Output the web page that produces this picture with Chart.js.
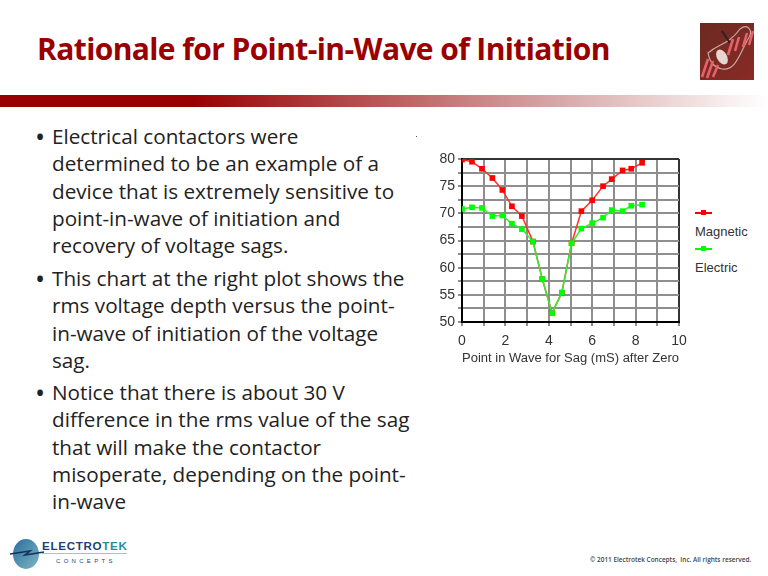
<!DOCTYPE html>
<html>
<head>
<meta charset="utf-8">
<title>Rationale for Point-in-Wave of Initiation</title>
<script src="https://cdn.jsdelivr.net/npm/chart.js@4/dist/chart.umd.min.js"></script>
<style>
    html, body { margin: 0; padding: 0; background: #fff; }
    #slide { position: relative; width: 768px; height: 576px; overflow: hidden; font-family: "Open Sans", sans-serif; }
    #slide > * { position: absolute; }
    #title { left: 37px; top: 29px; font-size: 30px; font-weight: 700; color: #990000; white-space: nowrap; letter-spacing: -0.6px; line-height: 40px; }
    #bar { left: 0; top: 95px; width: 768px; height: 12px; background: linear-gradient(to right, #990000 0%, #990000 25%, #c98585 62%, #ffffff 100%); }
    #icon { left: 700px; top: 23px; }
    .bullet { left: 35px; width: 385px; font-size: 20.7px; line-height: 27.3px; color: #222; white-space: nowrap; }
    .bullet span { position: absolute; left: 0; font-size: 27px; }
    .bullet p { margin: 0 0 0 17px; }
    #chartBox { left: 420px; top: 145px; width: 270px; height: 225px; }
    #speck { left: 416px; top: 136px; width: 1px; height: 1px; background: #555; }
    .leg { font-family: "Liberation Sans", sans-serif; font-size: 13px; color: #333; left: 695px; }
    .legLine { left: 695px; width: 17px; height: 1.5px; }
    .legMark { left: 701px; width: 5px; height: 5px; }
    #logoText { left: 42px; top: 539px; font-family: "Liberation Sans", sans-serif; font-size: 11.6px; font-weight: 700; color: #1d3f7c; letter-spacing: 0.7px; white-space: nowrap; }
    #logoText b { color: #1f8f9a; }
    #logoSub { left: 56px; top: 558px; font-family: "Liberation Sans", sans-serif; font-size: 6px; color: #1d3f7c; letter-spacing: 3.3px; white-space: nowrap; }
    #logoRule { left: 42px; top: 553px; width: 85px; height: 1px; background: #9fc4d6; }
    #copy { left: 590px; top: 555px; font-size: 6.45px; font-weight: 600; color: #444; white-space: nowrap; }
</style>
</head>
<body>
<div id="slide">
    <div id="title">Rationale for Point-in-Wave of Initiation</div>
    <svg id="icon" width="57" height="57" viewBox="0 0 57 57">
        <defs>
            <linearGradient id="iconBg" x1="0" y1="0" x2="1" y2="1">
                <stop offset="0" stop-color="#6b2a22"/>
                <stop offset="1" stop-color="#8a2a26"/>
            </linearGradient>
        </defs>
        <rect width="54" height="57" fill="url(#iconBg)"/>
        <path d="M8 30 C20 20 28 22 40 6 C48 0 54 8 48 16 C40 30 36 48 22 46 C14 44 10 40 8 30Z" fill="none" stroke="#c9a9a0" stroke-width="1.2"/>
        <path d="M22 8 L30 20" stroke="#2a2020" stroke-width="2"/>
        <ellipse cx="22" cy="34" rx="5" ry="8" fill="#e8d5d0" transform="rotate(-30 22 34)"/>
        <path d="M2 54 L8 36 M7 55 L13 38 M13 54 L18 42 M28 32 L33 16 M35 28 L39 14 M43 24 L47 10 M49 22 L53 8" stroke="#e8606a" stroke-width="2.6"/>
    </svg>
    <div id="bar"></div>

    <div class="bullet" style="top:123px"><span>•</span><p>Electrical contactors were<br>determined to be an example of a<br>device that is extremely sensitive to<br>point-in-wave of initiation and<br>recovery of voltage sags.</p></div>
    <div class="bullet" style="top:265px"><span>•</span><p>This chart at the right plot shows the<br>rms voltage depth versus the point-<br>in-wave of initiation of the voltage<br>sag.</p></div>
    <div class="bullet" style="top:379px"><span>•</span><p>Notice that there is about 30 V<br>difference in the rms value of the sag<br>that will make the contactor<br>misoperate, depending on the point-<br>in-wave</p></div>

    <div id="speck"></div>
    <div id="chartBox"><canvas id="sagChart"></canvas></div>

    <div class="legLine" style="top:212px;background:#ff0000"></div>
    <div class="legMark" style="top:210px;background:#ff0000"></div>
    <div class="leg" style="top:224px">Magnetic</div>
    <div class="legLine" style="top:248px;background:#00ff00"></div>
    <div class="legMark" style="top:246px;background:#00ff00"></div>
    <div class="leg" style="top:260px">Electric</div>

    <svg style="left:10px;top:537px" width="34" height="34" viewBox="0 0 34 34">
        <defs>
            <linearGradient id="globe" x1="0" y1="0" x2="1" y2="1">
                <stop offset="0" stop-color="#2a6d9e"/>
                <stop offset="1" stop-color="#7fb7c4"/>
            </linearGradient>
        </defs>
        <ellipse cx="16" cy="17" rx="13" ry="15" fill="url(#globe)"/>
        <path d="M0 17 L20 14 L15 18 L34 15" fill="none" stroke="#16315f" stroke-width="1.6"/>
    </svg>
    <div id="logoText">ELECTRO<b>TEK</b></div>
    <div id="logoRule"></div>
    <div id="logoSub">CONCEPTS</div>
    <div id="copy">© 2011 Electrotek Concepts,&nbsp; Inc. All rights reserved.</div>
</div>

<script>
    // ── Data ─────────────────────────────────────────────────────
    const sagPoints = [0, 0.46, 0.92, 1.4, 1.86, 2.3, 2.76, 3.27, 3.7, 4.15, 4.6, 5.05, 5.5, 6.0, 6.5, 6.9, 7.4, 7.8, 8.3];
    const magneticValues = [79.9, 79.5, 78.2, 76.5, 74.3, 71.3, 69.5, 64.8, 57.9, 51.7, 55.4, 64.5, 70.4, 72.4, 75.0, 76.3, 77.9, 78.2, 79.3];
    const electricValues = [70.8, 71.1, 71.0, 69.5, 69.6, 68.1, 67.1, 64.8, 57.9, 51.6, 55.4, 64.5, 67.2, 68.2, 69.2, 70.6, 70.4, 71.4, 71.6];
    const xAxisTitle = 'Point in Wave for Sag (mS) after Zero';

    const toPoints = (xs, ys) => xs.map((x, i) => ({ x: x, y: ys[i] }));

    const tickFont = { family: '"Liberation Sans", sans-serif', size: 14 };
    const titleFont = { family: '"Liberation Sans", sans-serif', size: 13.25 };

    new Chart(document.getElementById('sagChart'), {
        type: 'line',
        data: {
            datasets: [
                {
                    label: 'Magnetic',
                    data: toPoints(sagPoints, magneticValues),
                    borderColor: '#ff3030', backgroundColor: '#ff0000',
                    borderWidth: 1.5, pointStyle: 'rect', pointRadius: 4, pointBorderWidth: 0,
                    tension: 0, order: 2
                },
                {
                    label: 'Electric',
                    data: toPoints(sagPoints, electricValues),
                    borderColor: '#30f030', backgroundColor: '#00ff00',
                    borderWidth: 1.5, pointStyle: 'rect', pointRadius: 4, pointBorderWidth: 0,
                    tension: 0, order: 1
                }
            ]
        },
        options: {
            responsive: true, maintainAspectRatio: false, animation: false,
            layout: { padding: { top: 14, right: 11, left: 0, bottom: 0 } },
            plugins: { legend: { display: false }, tooltip: { enabled: false } },
            scales: {
                x: {
                    type: 'linear', min: 0, max: 10,
                    afterFit: s => { s.height = 48; s.paddingRight = 0; s.paddingLeft = 0; },
                    border: { color: '#000', width: 2 },
                    grid: {
                        color: c => c.tick.value === 10 ? '#333' : '#8e8e8e',
                        lineWidth: 2, tickLength: 4, tickColor: '#8e8e8e'
                    },
                    ticks: {
                        stepSize: 1, autoSkip: false, maxRotation: 0, color: '#333', font: tickFont, padding: 7,
                        callback: v => v % 2 === 0 ? v : ''
                    },
                    title: { display: true, text: xAxisTitle, color: '#333', font: titleFont, padding: { top: 1, bottom: 4 } }
                },
                y: {
                    min: 50, max: 80,
                    afterFit: s => { s.width = 42; },
                    border: { color: '#000', width: 2 },
                    grid: {
                        color: c => c.tick.value === 80 ? '#333' : '#8e8e8e',
                        lineWidth: 2, tickLength: 4, tickColor: '#8e8e8e'
                    },
                    ticks: {
                        stepSize: 2.5, autoSkip: false, color: '#333', font: tickFont, padding: 3,
                        callback: v => v % 5 === 0 ? v : ''
                    }
                }
            }
        }
    });
</script>
</body>
</html>
